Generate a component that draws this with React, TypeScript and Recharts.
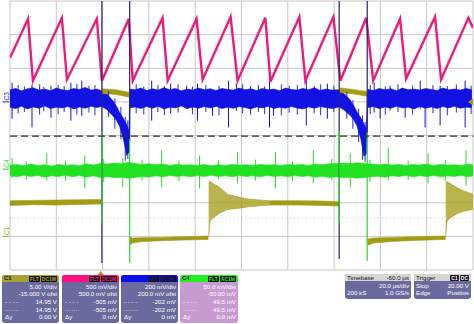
import React from "react";
import {
  ComposedChart,
  Area,
  Line,
  XAxis,
  YAxis,
  CartesianGrid,
  ReferenceLine,
  ReferenceDot,
} from "recharts";

// time in µs from left edge of screen (20 µs/div), amplitude in divisions from centre
const xTicks = [0, 20, 40, 60, 80, 100, 120, 140, 160, 180, 200];
const yTicks = [-4, -3, -2, -1, 0, 1, 2, 3, 4];

const PINK = "#ee1a7c";
const BLUE = "#1212e2";
const NAVY = "#22227a";
const GREEN = "#22e022";
const OLIVE = "#a39b14";
const SLATE = "#6a6a9e";
const LILAC = "#c89ad2";

// C2 sawtooth: [t, div]
const pinkWave = [
  [0, 2.31], [7.8, 3.47], [9.9, 1.63], [22.4, 3.5], [24.6, 1.66], [37.5, 3.47],
  [39.7, 1.63], [51.3, 3.47], [53.0, 1.63], [65.9, 3.5], [68.1, 1.63], [80.6, 3.47],
  [83.2, 1.66], [95.3, 3.53], [98.3, 1.63], [110.3, 3.5], [112.5, 1.6], [125.0, 3.53],
  [127.6, 1.63], [139.7, 3.53], [142.7, 1.63], [153.9, 3.5], [156.9, 1.63], [168.5, 3.47],
  [171.1, 1.69], [183.6, 3.53], [186.2, 1.66], [198.0, 3.5], [200, 3.2],
];

// C3 noise envelope: [t, low, high]
const blueBand = [
  [0, 0.84, 1.36], [2.5, 0.8, 1.4], [5, 0.87, 1.33], [7.5, 0.79, 1.39], [10, 0.85, 1.42],
  [12.5, 0.81, 1.35], [15, 0.88, 1.38], [17.5, 0.8, 1.33], [20, 0.84, 1.41], [22.5, 0.82, 1.36],
  [25, 0.86, 1.34], [27.5, 0.79, 1.4], [30, 0.85, 1.37], [32.5, 0.81, 1.43], [35, 0.87, 1.35],
  [37.5, 0.83, 1.38], [39.7, 0.86, 1.33],
  [41.8, 0.77, 1.24], [44.4, 0.59, 1.04], [46.1, 0.44, 0.86], [47.4, 0.27, 0.68],
  [49.1, -0.15, 0.5], [50.4, -0.59, 0.33], [51.4, -0.5, 0.15],
  [51.8, 0.82, 1.38], [54, 0.85, 1.36], [56.5, 0.8, 1.41], [59, 0.86, 1.34], [61.5, 0.81, 1.39],
  [64, 0.87, 1.35], [66.5, 0.79, 1.42], [69, 0.84, 1.36], [71.5, 0.82, 1.4], [74, 0.88, 1.33],
  [76.5, 0.8, 1.38], [79, 0.85, 1.35], [81.5, 0.81, 1.41], [84, 0.86, 1.36], [86.5, 0.82, 1.39],
  [89, 0.87, 1.34], [91.5, 0.8, 1.4], [94, 0.84, 1.37], [96.5, 0.81, 1.35], [99, 0.86, 1.41],
  [101.5, 0.83, 1.36], [104, 0.79, 1.39], [106.5, 0.85, 1.34], [109, 0.82, 1.4], [111.5, 0.87, 1.36],
  [114, 0.8, 1.38], [116.5, 0.84, 1.33], [119, 0.81, 1.41], [121.5, 0.86, 1.37], [124, 0.82, 1.35],
  [126.5, 0.79, 1.4], [129, 0.85, 1.36], [131.5, 0.81, 1.42], [134, 0.86, 1.34], [136.5, 0.83, 1.38],
  [139, 0.8, 1.35], [142.2, 0.85, 1.36],
  [144.3, 0.76, 1.25], [146.9, 0.6, 1.06], [148.6, 0.45, 0.88], [149.9, 0.28, 0.7],
  [151.6, -0.12, 0.52], [152.9, -0.62, 0.35], [153.9, -0.55, 0.18],
  [154.5, 0.83, 1.37], [157, 0.86, 1.34], [159.5, 0.8, 1.4], [162, 0.85, 1.36], [164.5, 0.81, 1.39],
  [167, 0.87, 1.33], [169.5, 0.82, 1.41], [172, 0.84, 1.36], [174.5, 0.79, 1.38], [177, 0.86, 1.35],
  [179.5, 0.81, 1.4], [182, 0.85, 1.37], [184.5, 0.8, 1.34], [187, 0.86, 1.41], [189.5, 0.82, 1.36],
  [192, 0.87, 1.38], [194.5, 0.81, 1.35], [197, 0.84, 1.4], [199.5, 0.83, 1.36],
];

// C3 spikes: [t, low, high]
const blueSpikes = [
  [0.9, 0.5, 1.57], [9.5, 0.24, 1.51], [17.7, 0.53, 1.48], [26.3, 0.44, 1.57], [31.0, 0.59, 1.63],
  [61.2, 0.44, 1.63], [69.4, 0.65, 1.54], [76.3, 0.8, 1.48], [81.0, 0.44, 1.54], [87.5, 0.59, 1.27],
  [94.4, 0.24, 1.63], [97.8, 0.74, 1.54], [112.1, 0.24, 1.63], [113.8, 0.59, 1.27], [128.0, 0.3, 1.63],
  [137.1, 0.5, 1.54], [157.3, 0.68, 1.57], [159.9, 0.5, 1.27], [164.2, 0.74, 1.48], [170.7, 0.53, 1.27],
  [177.2, 0.8, 1.63], [179.3, 0.24, 1.27], [185.8, 0.3, 1.48], [196.6, 0.24, 1.63],
];

// smaller C3 spikes, including the noisy tail before each edge
const blueSmallSpikes = [
  [3.5, 0.66, 1.5], [6.2, 0.7, 1.46], [12.8, 0.62, 1.52], [14.6, 0.72, 1.45], [20.8, 0.64, 1.5],
  [23.4, 0.7, 1.47], [28.9, 0.62, 1.53], [34.1, 0.68, 1.48], [36.7, 0.6, 1.5],
  [54.5, 0.66, 1.52], [57.8, 0.62, 1.46], [63.9, 0.7, 1.5], [66.7, 0.6, 1.47], [72.6, 0.68, 1.52],
  [78.8, 0.63, 1.46], [84.6, 0.7, 1.5], [90.3, 0.6, 1.48], [100.5, 0.66, 1.52], [103.9, 0.62, 1.47],
  [107.3, 0.7, 1.5], [110.0, 0.64, 1.46], [117.2, 0.6, 1.52], [120.6, 0.68, 1.48], [124.1, 0.62, 1.5],
  [131.4, 0.66, 1.47], [134.2, 0.6, 1.52], [139.9, 0.7, 1.48], [155.6, 0.64, 1.5], [162.1, 0.62, 1.46],
  [167.6, 0.7, 1.52], [173.9, 0.62, 1.48], [182.7, 0.66, 1.5], [188.9, 0.6, 1.47], [192.8, 0.68, 1.52],
  [199.2, 0.64, 1.48],
  [42.6, 0.55, 1.32], [45.3, 0.2, 1.1], [47.9, -0.1, 0.85], [49.8, -0.75, 0.55], [50.9, -0.7, 0.45],
  [145.5, 0.5, 1.3], [148.1, 0.2, 1.05], [150.6, -0.2, 0.8], [152.3, -0.72, 0.6], [153.4, -0.78, 0.4],
];

// switching edges seen on C3 / C4: [t, low, high]
const blueEdges = [[39.7, -3.79, 4], [51.7, -0.15, 4], [142.2, -3.67, 4], [154.3, -0.1, 4]];
const greenEdges = [[39.7, -2.61, 0.12], [51.7, -3.79, -0.1], [142.2, -2.61, 0.15], [154.3, -3.73, 0.1]];

// C4 noise envelope: [t, low, high]
const greenBand = [
  [0, -1.2, -0.88], [3, -1.23, -0.86], [6, -1.18, -0.9], [9, -1.22, -0.85], [12, -1.19, -0.89],
  [15, -1.24, -0.87], [18, -1.2, -0.91], [21, -1.22, -0.86], [24, -1.18, -0.89], [27, -1.23, -0.87],
  [30, -1.19, -0.9], [33, -1.24, -0.84], [36, -1.2, -0.88], [39, -1.25, -0.83], [42, -1.22, -0.85],
  [45, -1.26, -0.82], [48, -1.24, -0.84], [51, -1.27, -0.8], [54, -1.25, -0.83], [57, -1.22, -0.86],
  [60, -1.24, -0.84], [63, -1.2, -0.87], [66, -1.23, -0.85], [69, -1.19, -0.89], [72, -1.22, -0.86],
  [75, -1.2, -0.88], [78, -1.23, -0.87], [81, -1.19, -0.89], [84, -1.22, -0.86], [87, -1.18, -0.9],
  [90, -1.22, -0.87], [93, -1.2, -0.89], [96, -1.23, -0.86], [99, -1.19, -0.88], [102, -1.22, -0.87],
  [105, -1.2, -0.89], [108, -1.23, -0.86], [111, -1.19, -0.88], [114, -1.22, -0.87], [117, -1.2, -0.89],
  [120, -1.23, -0.86], [123, -1.19, -0.88], [126, -1.22, -0.86], [129, -1.2, -0.89], [132, -1.24, -0.85],
  [135, -1.21, -0.87], [138, -1.25, -0.84], [141, -1.23, -0.83], [144, -1.26, -0.82], [147, -1.24, -0.84],
  [150, -1.27, -0.81], [153, -1.25, -0.83], [156, -1.23, -0.85], [159, -1.21, -0.87], [162, -1.24, -0.85],
  [165, -1.2, -0.88], [168, -1.22, -0.86], [171, -1.19, -0.89], [174, -1.23, -0.86], [177, -1.2, -0.88],
  [180, -1.22, -0.85], [183, -1.19, -0.89], [186, -1.23, -0.86], [189, -1.2, -0.88], [192, -1.22, -0.87],
  [195, -1.19, -0.89], [198, -1.23, -0.85], [200, -1.2, -0.88],
];

const greenSpikes = [
  [0.9, -1.27, -0.68], [15.9, -1.33, -0.53], [32.3, -1.57, -0.59], [48.7, -1.54, -0.68],
  [65.5, -1.54, -0.44], [81.9, -1.57, -0.59], [98.3, -1.42, -0.5], [114.7, -1.57, -0.5],
  [131.0, -1.42, -0.44], [147.0, -1.54, -0.53], [163.4, -1.33, -0.36], [180.6, -1.42, -0.53],
  [197.0, -1.48, -0.44],
  [7, -1.32, -0.76], [24, -1.35, -0.74], [40.5, -1.38, -0.7], [57, -1.33, -0.72], [73, -1.36, -0.75],
  [90, -1.3, -0.74], [106, -1.34, -0.72], [122, -1.36, -0.76], [139, -1.33, -0.7], [155.5, -1.38, -0.72],
  [172, -1.32, -0.75], [188, -1.35, -0.73],
];

// C1 switch node, segments: [t, low, high]
const oliveIdle1 = [[0, -2.08, -1.94], [10, -2.06, -1.93], [20, -2.07, -1.92], [30, -2.05, -1.91], [39.6, -2.04, -1.9]];
const oliveHigh1 = [[39.8, 1.25, 1.39], [45.7, 1.22, 1.36], [51.6, 1.14, 1.28]];
const oliveLow1 = [[51.8, -3.26, -3.02], [53, -3.2, -3.05], [56, -3.16, -3.04], [65, -3.13, -3.03], [75, -3.11, -3.01], [85.7, -3.09, -2.99]];
const oliveRing1 = [[85.8, -3.0, -1.39], [86.4, -2.55, -1.37], [87.5, -2.46, -1.42], [90.5, -2.31, -1.54], [94, -2.2, -1.75], [99, -2.16, -1.84], [103, -2.12, -1.89], [108, -2.09, -1.92], [112, -2.07, -1.94]];
const oliveIdle2 = [[112, -2.07, -1.94], [125, -2.07, -1.94], [135, -2.08, -1.95], [142.1, -2.1, -1.97]];
const oliveHigh2 = [[142.3, 1.28, 1.42], [148, 1.24, 1.37], [154.2, 1.17, 1.31]];
const oliveLow2 = [[154.4, -3.27, -3.08], [157, -3.2, -3.05], [165, -3.15, -3.03], [175, -3.12, -3.01], [188.1, -3.09, -2.99]];
const oliveRing2 = [[188.2, -3.0, -1.39], [188.8, -2.55, -1.37], [190, -2.46, -1.42], [193, -2.33, -1.55], [196, -2.25, -1.65], [200, -2.2, -1.75]];

const cursorLevel = -0.02;
const dottedLevel = -2.45;
const triggerTime = 39.2;
const triggerLevel = 1.0;
const channelTags = [
  { name: "C3", level: 1.0, color: BLUE },
  { name: "C4", level: -1.0, color: GREEN },
  { name: "C1", level: -3.0, color: OLIVE },
];

const channelBoxes = [
  { name: "C1", left: 2, width: 57, head: "#a8a030", nameColor: "#111", body: SLATE, badges: ["FLT", "DC1M"],
    values: ["5.00 V/div", "-15.000 V ofst", "14.95 V", "14.95 V", "0.00 V"] },
  { name: "C2", left: 62, width: 57, head: "#ff1080", nameColor: "#ff1080", body: SLATE, badges: ["FLT", "DC1M"],
    values: ["500 mV/div", "500.0 mV ofst", "-505 mV", "-505 mV", "0 mV"] },
  { name: "C3", left: 121, width: 57, head: "#0c0cf0", nameColor: "#0c0cf0", body: SLATE, badges: ["FLT", "DC1M"],
    values: ["200 mV/div", "200.0 mV ofst", "-202 mV", "-202 mV", "0 mV"] },
  { name: "C4", left: 180, width: 58, head: "#22f022", nameColor: "#111", body: LILAC, badges: ["FLT", "AC1M"],
    values: ["50.0 mV/div", "-50.00 mV", "49.5 mV", "49.5 mV", "0.0 mV"] },
];
const rowMarks = ["", "", "- - - -", "·······", "Δy"];

const band = (rows: number[][]) => rows.map(([t, lo, hi]) => ({ t, r: [lo, hi] }));
const spikes = (rows: number[][]) =>
  rows.flatMap(([t, lo, hi]) => [{ t, v: hi }, { t, v: lo }, { t, v: null }]);
const trace = (rows: number[][]) => rows.map(([t, v]) => ({ t, v }));

const Tag = (props: any) => {
  const x = props.viewBox?.x ?? 0;
  const y = props.viewBox?.y ?? 0;
  return (
    <text
      transform={`translate(${x + 6.5},${y - 1.5}) rotate(-90)`}
      fontSize={6.5}
      fill={props.color}
      fontFamily="Liberation Sans, Arial, sans-serif"
    >
      {props.text}
    </text>
  );
};

const BandArea = ({ rows, color, opacity = 1 }: any) => (
  <Area
    data={band(rows)}
    dataKey="r"
    type="linear"
    stroke={color}
    strokeWidth={0.6}
    fill={color}
    fillOpacity={opacity}
    dot={false}
    activeDot={false}
    isAnimationActive={false}
  />
);

const SpikeLine = ({ rows, color, width = 1 }: any) => (
  <Line
    data={spikes(rows)}
    dataKey="v"
    stroke={color}
    strokeWidth={width}
    dot={false}
    activeDot={false}
    connectNulls={false}
    isAnimationActive={false}
  />
);

function Scope() {
  return (
    <ComposedChart width={474} height={280} margin={{ top: 1, right: 1, bottom: 10, left: 10 }}>
      <CartesianGrid stroke="#c8c8c8" strokeWidth={1} />
      <XAxis type="number" dataKey="t" domain={[0, 200]} ticks={xTicks} hide allowDataOverflow />
      <YAxis type="number" domain={[-4, 4]} ticks={yTicks} hide allowDataOverflow />
      <ReferenceLine y={dottedLevel} stroke="#b8b8b8" strokeDasharray="1 3" />
      {BandArea({ rows: blueBand, color: BLUE })}
      {BandArea({ rows: oliveIdle1, color: OLIVE })}
      {BandArea({ rows: oliveHigh1, color: OLIVE })}
      {BandArea({ rows: oliveLow1, color: OLIVE })}
      {BandArea({ rows: oliveRing1, color: OLIVE, opacity: 0.75 })}
      {BandArea({ rows: oliveIdle2, color: OLIVE })}
      {BandArea({ rows: oliveHigh2, color: OLIVE })}
      {BandArea({ rows: oliveLow2, color: OLIVE })}
      {BandArea({ rows: oliveRing2, color: OLIVE, opacity: 0.75 })}
      {BandArea({ rows: greenBand, color: GREEN })}
      {SpikeLine({ rows: blueSmallSpikes, color: BLUE, width: 0.9 })}
      {SpikeLine({ rows: blueSpikes, color: BLUE })}
      <Line data={trace(pinkWave)} dataKey="v" stroke={PINK} strokeWidth={2.4} dot={false} activeDot={false} isAnimationActive={false} />
      {SpikeLine({ rows: blueEdges, color: NAVY, width: 1.2 })}
      {SpikeLine({ rows: greenSpikes, color: GREEN })}
      {SpikeLine({ rows: greenEdges, color: GREEN, width: 1.2 })}
      <ReferenceLine y={cursorLevel} stroke="#333" strokeWidth={1.2} strokeDasharray="7 4" />
      {channelTags.map((c) => (
        <ReferenceLine
          key={c.name}
          segment={[{ x: -3.2, y: c.level }, { x: -0.4, y: c.level }]}
          stroke={c.color}
          strokeWidth={1}
          ifOverflow="visible"
          label={<Tag text={c.name} color={c.color} />}
        />
      ))}
      <ReferenceDot
        x={triggerTime}
        y={-4}
        ifOverflow="visible"
        shape={(p: any) => (
          <polygon points={`${p.cx},${p.cy + 1} ${p.cx - 3.5},${p.cy + 5.5} ${p.cx + 3.5},${p.cy + 5.5}`} fill={OLIVE} />
        )}
      />
      <ReferenceDot
        x={200}
        y={triggerLevel}
        ifOverflow="visible"
        shape={(p: any) => (
          <polygon points={`${p.cx - 5},${p.cy} ${p.cx},${p.cy - 3.5} ${p.cx},${p.cy + 3.5}`} fill={OLIVE} />
        )}
      />
    </ComposedChart>
  );
}

const badgeStyle = (color: string): React.CSSProperties => ({
  background: "#161616",
  color,
  fontSize: 5,
  lineHeight: "6px",
  padding: "0 1px",
  borderRadius: 1,
  fontWeight: "bold",
});

function ChannelBox({ box }: any) {
  return (
    <div
      style={{
        position: "absolute",
        left: box.left,
        top: 275,
        width: box.width,
        height: 48,
        background: box.body,
        borderRadius: 3,
        overflow: "hidden",
        color: "#fff",
        fontSize: 6.2,
      }}
    >
      <div
        style={{
          height: 7,
          background: box.head,
          display: "flex",
          alignItems: "center",
          justifyContent: "space-between",
          padding: "0 2px",
        }}
      >
        <span style={{ color: box.nameColor, fontSize: 6, fontWeight: "bold", lineHeight: "7px" }}>{box.name}</span>
        <span style={{ display: "flex", gap: 1 }}>
          {box.badges.map((b: string) => (
            <span key={b} style={badgeStyle(box.head)}>{b}</span>
          ))}
        </span>
      </div>
      <div style={{ padding: "0.5px 2px 0 3px" }}>
        {box.values.map((v: string, i: number) => (
          <div key={i} style={{ display: "flex", justifyContent: "space-between", height: 7.7, lineHeight: "7.7px" }}>
            <span>{rowMarks[i]}</span>
            <span>{v}</span>
          </div>
        ))}
      </div>
    </div>
  );
}

function InfoBox({ left, width, title, titleRight, rows }: any) {
  return (
    <div
      style={{
        position: "absolute",
        left,
        top: 274,
        width,
        height: 25,
        background: SLATE,
        borderRadius: 3,
        overflow: "hidden",
        color: "#fff",
        fontSize: 6.2,
      }}
    >
      <div
        style={{
          height: 7,
          background: "#d6d6d6",
          color: "#111",
          display: "flex",
          justifyContent: "space-between",
          alignItems: "center",
          padding: "0 2px",
          lineHeight: "7px",
        }}
      >
        <span>{title}</span>
        {titleRight}
      </div>
      <div style={{ padding: "0.5px 2px 0 2px" }}>
        {rows.map((r: string[], i: number) => (
          <div key={i} style={{ display: "flex", justifyContent: "space-between", height: 7.6, lineHeight: "7.6px" }}>
            <span>{r[0]}</span>
            <span>{r[1]}</span>
          </div>
        ))}
      </div>
    </div>
  );
}

const timebaseRows = [["", "20.0 µs/div"], ["200 kS", "1.0 GS/s"]];
const triggerRows = [["Stop", "20.00 V"], ["Edge", "Positive"]];

export default function App() {
  return (
    <div
      style={{
        position: "absolute",
        left: 0,
        top: 0,
        width: 474,
        height: 324,
        background: "#fff",
        overflow: "hidden",
        fontFamily: '"Liberation Sans", Arial, sans-serif',
      }}
    >
      <div style={{ position: "absolute", left: 0, top: 0 }}>
        <Scope />
      </div>
      {channelBoxes.map((b) => (
        <ChannelBox key={b.name} box={b} />
      ))}
      <InfoBox left={345} width={66} title="Timebase" titleRight={<span>-60.0 µs</span>} rows={timebaseRows} />
      <InfoBox
        left={414}
        width={57}
        title="Trigger"
        titleRight={
          <span style={{ display: "flex", gap: 1 }}>
            <span style={{ ...badgeStyle("#fff") }}>C1</span>
            <span style={{ ...badgeStyle("#fff") }}>DC</span>
          </span>
        }
        rows={triggerRows}
      />
    </div>
  );
}
